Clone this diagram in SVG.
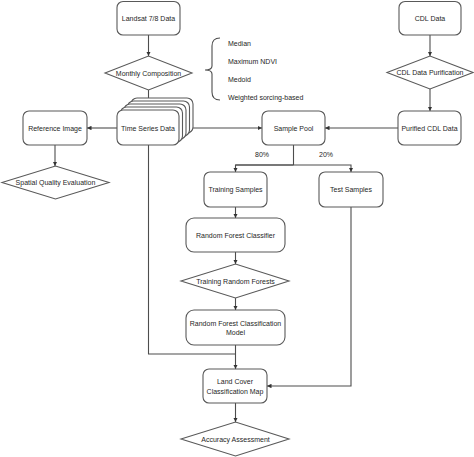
<svg xmlns="http://www.w3.org/2000/svg" width="474" height="457" viewBox="0 0 474 457">
<defs>
<marker id="ah" viewBox="0 0 6 6" refX="6" refY="3" markerWidth="4.5" markerHeight="4.5" orient="auto" markerUnits="userSpaceOnUse">
<path d="M0,0 L6,3 L0,6 z" fill="#333"/>
</marker>
</defs>
<style>
.box{fill:#fff;stroke:#595959;stroke-width:1.1}
.dia{fill:#fff;stroke:#595959;stroke-width:1.1}
.t{font-family:"Liberation Sans",Arial,sans-serif;font-size:7px;fill:#262626;text-anchor:middle;dominant-baseline:central}
.tl{font-family:"Liberation Sans",Arial,sans-serif;font-size:7px;fill:#262626;dominant-baseline:central}
.c{fill:none;stroke:#4d4d4d;stroke-width:1.1}
.ca{fill:none;stroke:#4d4d4d;stroke-width:1.1;marker-end:url(#ah)}
</style>
<rect width="474" height="457" fill="#fff"/>
<g id="connectors">
<line class="ca" x1="148.5" y1="35" x2="148.5" y2="56"/>
<line class="ca" x1="148.5" y1="90" x2="148.5" y2="110"/>
<line class="ca" x1="117" y1="128" x2="87" y2="128"/>
<line class="ca" x1="55" y1="145" x2="55" y2="166"/>
<line class="ca" x1="190" y1="128" x2="262" y2="128"/>
<line class="ca" x1="430" y1="35" x2="430" y2="56"/>
<line class="ca" x1="430" y1="89" x2="430" y2="111"/>
<line class="ca" x1="398" y1="128" x2="325" y2="128"/>
<polyline class="c" points="293.5,145 293.5,165"/>
<polyline class="ca" points="235.5,165 351,165 351,172"/>
<polyline class="ca" points="293.5,165 235.5,165 235.5,172"/>
<line class="ca" x1="235.5" y1="207" x2="235.5" y2="218"/>
<line class="ca" x1="235.5" y1="252" x2="235.5" y2="264"/>
<line class="ca" x1="235.5" y1="298" x2="235.5" y2="310"/>
<polyline class="c" points="148.5,145 148.5,354 235.5,354"/>
<line class="ca" x1="235.5" y1="345" x2="235.5" y2="369"/>
<polyline class="ca" points="351,207 351,386 267,386"/>
<line class="ca" x1="235.5" y1="403" x2="235.5" y2="422"/>
<path class="c" d="M220,38 Q212,38 212,46 L212,66 Q212,70 205,70 Q212,70 212,74 L212,92 Q212,100 220,100"/>
</g>
<g id="landsat"><rect class="box" x="117" y="1.5" width="63" height="33.5" rx="6"/><text class="t" x="148.5" y="18">Landsat 7/8 Data</text></g>
<g id="monthly"><polygon class="dia" points="105,73 148.5,56 192,73 148.5,90"/><text class="t" x="148.5" y="73">Monthly Composition</text></g>
<g id="methods">
<text class="tl" x="228" y="43">Median</text>
<text class="tl" x="228" y="61">Maximum NDVI</text>
<text class="tl" x="228" y="79">Medoid</text>
<text class="tl" x="228" y="97">Weighted sorcing-based</text>
</g>
<g id="timeseries">
<rect class="box" x="131" y="98" width="62" height="35" rx="6"/>
<rect class="box" x="127.5" y="101" width="62" height="35" rx="6"/>
<rect class="box" x="124" y="104" width="62" height="35" rx="6"/>
<rect class="box" x="120.5" y="107" width="62" height="35" rx="6"/>
<rect class="box" x="117" y="110" width="62" height="35" rx="6"/>
<text class="t" x="148" y="128">Time Series Data</text>
</g>
<g id="reference"><rect class="box" x="23" y="111" width="64" height="34" rx="6"/><text class="t" x="55" y="128">Reference Image</text></g>
<g id="spatial"><polygon class="dia" points="2,182.5 55.5,166 109,182.5 55.5,199"/><text class="t" x="55.5" y="182.5">Spatial Quality Evaluation</text></g>
<g id="cdl"><rect class="box" x="399" y="1.5" width="62" height="33.5" rx="6"/><text class="t" x="430" y="18">CDL Data</text></g>
<g id="cdlpur"><polygon class="dia" points="387,72.5 430,56 473,72.5 430,89"/><text class="t" x="430" y="72.5">CDL Data Purification</text></g>
<g id="purified"><rect class="box" x="398" y="111" width="63" height="34" rx="6"/><text class="t" x="429.5" y="128">Purified CDL Data</text></g>
<g id="samplepool"><rect class="box" x="262" y="111" width="63" height="34" rx="6"/><text class="t" x="293.5" y="128">Sample Pool</text></g>
<g id="labels"><text class="t" x="262" y="154">80%</text><text class="t" x="326" y="154">20%</text></g>
<g id="training"><rect class="box" x="204" y="172" width="63" height="35" rx="6"/><text class="t" x="235.5" y="189.5">Training Samples</text></g>
<g id="test"><rect class="box" x="319" y="172" width="64" height="35" rx="6"/><text class="t" x="351" y="189.5">Test Samples</text></g>
<g id="rfc"><rect class="box" x="186" y="218" width="99" height="34" rx="8"/><text class="t" x="235.5" y="235">Random Forest Classifier</text></g>
<g id="trf"><polygon class="dia" points="181,281 235.5,264 289,281 235.5,298"/><text class="t" x="235.5" y="281">Training Random Forests</text></g>
<g id="rfcm"><rect class="box" x="186" y="310" width="99" height="35" rx="8"/><text class="t" x="235.5" y="323">Random Forest Classification</text><text class="t" x="235.5" y="332.5">Model</text></g>
<g id="landcover"><rect class="box" x="203" y="369" width="64" height="34" rx="6"/><text class="t" x="235" y="381.5">Land Cover</text><text class="t" x="235" y="391">Classification Map</text></g>
<g id="accuracy"><polygon class="dia" points="181,439 235.5,422 289,439 235.5,456"/><text class="t" x="235.5" y="439">Accuracy Assessment</text></g>
</svg>
